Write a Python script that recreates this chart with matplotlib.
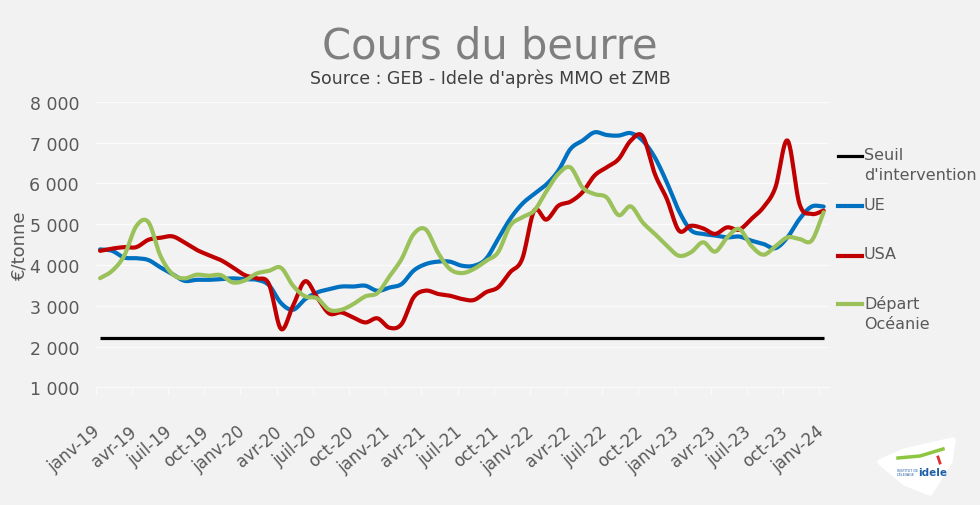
import numpy as np
import matplotlib
matplotlib.use("Agg")
import matplotlib.pyplot as plt
from matplotlib.lines import Line2D
from matplotlib.patches import Polygon
import matplotlib.transforms as mtransforms

# monthly prices, janv-19 .. janv-24 (€/tonne)
months = ["janv", "févr", "mars", "avr", "mai", "juin",
          "juil", "août", "sept", "oct", "nov", "déc"]
labels = [f"{months[i % 12]}-{19 + i // 12}" for i in range(61)]

ue = [4380, 4345, 4180, 4165, 4120, 3940, 3775, 3610, 3635, 3635, 3650, 3670,
      3650, 3635, 3505, 3065, 2900, 3160, 3325, 3405, 3470, 3470, 3490, 3365,
      3445, 3530, 3860, 4020, 4080, 4080, 3980, 3980, 4145, 4635, 5125, 5495,
      5740, 5970, 6310, 6840, 7045, 7250, 7185, 7170, 7230, 7045, 6635, 6020,
      5320, 4850, 4760, 4720, 4675, 4695, 4595, 4515, 4410, 4675, 5125, 5430,
      5430]
usa = [4345, 4400, 4435, 4435, 4615, 4665, 4700, 4550, 4370, 4240, 4120, 3940,
       3750, 3670, 3530, 2430, 3000, 3600, 3200, 2810, 2835, 2710, 2590, 2690,
       2460, 2550, 3205, 3370, 3290, 3245, 3165, 3140, 3330, 3450, 3820, 4145,
       5330, 5110, 5450, 5550, 5780, 6190, 6390, 6595, 7045, 7150, 6230, 5615,
       4840, 4960, 4895, 4760, 4920, 4865, 5125, 5410, 5900, 7050, 5490, 5250,
       5330]
oceanie = [3675, 3855, 4225, 4950, 5050, 4225, 3775, 3670, 3760, 3735, 3750, 3570,
           3620, 3790, 3855, 3930, 3490, 3230, 3180, 2900, 2900, 3040, 3230, 3310,
           3720, 4145, 4755, 4870, 4310, 3900, 3800, 3900, 4100, 4310, 4960, 5165,
           5330, 5800, 6230, 6390, 5900, 5735, 5655, 5220, 5435, 5040, 4760, 4470,
           4225, 4310, 4555, 4325, 4675, 4880, 4470, 4250, 4455, 4675, 4635, 4595,
           5290]
seuil = 2218

series = [("UE", ue, "#0070c0"), ("USA", usa, "#c00000"),
          ("Départ\nOcéanie", oceanie, "#9bc15a")]


def smooth(y, n=12):
    # catmull-rom curve through the monthly points (Excel "smoothed line")
    y = np.asarray(y, float)
    p = np.concatenate([[2 * y[0] - y[1]], y, [2 * y[-1] - y[-2]]])
    xs, ys = [], []
    t = np.linspace(0, 1, n, endpoint=False)
    for i in range(len(y) - 1):
        p0, p1, p2, p3 = p[i], p[i + 1], p[i + 2], p[i + 3]
        seg = 0.5 * (2 * p1 + (-p0 + p2) * t + (2 * p0 - 5 * p1 + 4 * p2 - p3) * t ** 2
                     + (-p0 + 3 * p1 - 3 * p2 + p3) * t ** 3)
        xs.append(i + t)
        ys.append(seg)
    xs.append([len(y) - 1])
    ys.append([y[-1]])
    return np.concatenate(xs), np.concatenate(ys)


bg = "#f2f2f2"
txt = "#595959"
fig = plt.figure(figsize=(9.8, 5.06), dpi=100, facecolor=bg)
ax = fig.add_axes([0.0977, 0.2326, 0.7483, 0.5644], facecolor=bg)

x = np.arange(len(labels))
ax.plot([-0.03, 60], [seuil, seuil], color="black", lw=2.3, solid_capstyle="butt")
for name, vals, col in series:
    sx, sy = smooth(vals)
    ax.plot(sx, sy, color=col, lw=3.0, solid_capstyle="round")

ax.set_ylim(1000, 8000)
ax.set_xlim(-0.36, 60.45)
yt = np.arange(1000, 8001, 1000)
ax.set_yticks(yt)
ax.set_yticklabels([f"{v // 1000} 000" for v in yt], fontsize=12.5, color=txt)
ax.grid(axis="y", color="#fbfbfb", lw=1)
ax.set_axisbelow(True)
for s in ["top", "right", "left"]:
    ax.spines[s].set_visible(False)
ax.spines["bottom"].set_color("#fbfbfb")
ax.tick_params(axis="y", length=0, pad=12)

xt = x[::3]
ax.set_xticks(xt - 0.36)
ax.set_xticklabels([labels[i] for i in xt], rotation=40, ha="right",
                   fontsize=12, color=txt)
ax.tick_params(axis="x", length=5, color="#fbfbfb", pad=20)
off = mtransforms.ScaledTranslation(8 / 100, 0, fig.dpi_scale_trans)
for lab in ax.get_xticklabels():
    lab.set_transform(lab.get_transform() + off)

ax.set_ylabel("€/tonne", fontsize=13, color=txt, labelpad=1)

fig.text(0.5, 0.885, "Cours du beurre", ha="center", va="baseline",
         fontsize=30, color="#7f7f7f")
fig.text(0.5, 0.834, "Source : GEB - Idele d'après MMO et ZMB", ha="center",
         va="baseline", fontsize=12.5, color="#404040")

# legend drawn by hand to keep Excel's layout
W, H = 980, 506
leg = [("Seuil\nd'intervention", "black", 157, 2.3), ("UE", "#0070c0", 207, 3.0),
       ("USA", "#c00000", 256.5, 3.0), ("Départ\nOcéanie", "#9bc15a", 305, 3.0)]
for lab, col, yy, lw in leg:
    fig.add_artist(Line2D([838 / W, 862 / W], [1 - yy / H, 1 - yy / H],
                          color=col, lw=lw, transform=fig.transFigure))
    fig.text(864 / W, 1 - (yy - 9) / H, lab, ha="left", va="top", fontsize=11.5,
             color=txt, linespacing=1.45)

# idele logo
pts = [(880, 463), (905, 452), (953, 441), (950, 462), (930, 494), (905, 484)]
logo = Polygon([[px / W, 1 - py / H] for px, py in pts], closed=True,
               transform=fig.transFigure, facecolor="white", edgecolor="white",
               lw=4, joinstyle="round")
fig.add_artist(logo)
fig.add_artist(Line2D([898 / W, 920 / W, 943 / W], [1 - 459 / H, 1 - 457 / H, 1 - 450 / H],
                      color="#8dc63f", lw=2.5, transform=fig.transFigure))
fig.add_artist(Line2D([938 / W, 940 / W], [1 - 458 / H, 1 - 464 / H],
                      color="#e03030", lw=2, transform=fig.transFigure))
fig.text(918 / W, 1 - 476 / H, "idele", fontsize=7.5, fontweight="bold",
         color="#1f5fa8", ha="left", va="baseline")
fig.text(897 / W, 1 - 473 / H, "INSTITUT DE\nL'ÉLEVAGE", fontsize=2.4,
         color="#1f5fa8", ha="left", va="center", linespacing=1.1)

fig.savefig("out.png", dpi=100, facecolor=bg)
